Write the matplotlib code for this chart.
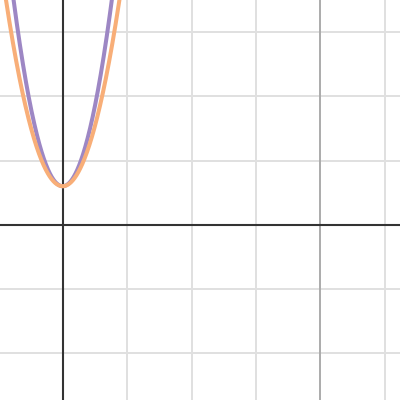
import numpy as np
import matplotlib
matplotlib.use("Agg")
import matplotlib.pyplot as plt

# Curves: y = a*x^2 + c
purple_a = 1.0
orange_a = 0.75
vertex_c = 3.0

sx, sy = 12.89, 12.83
x0, y0 = 62.7, 224.7
x_min, x_max = -x0 / sx, (400 - x0) / sx
y_min, y_max = -(400 - y0) / sy, y0 / sy

minor_step = 5
major_lines_x = [20]

fig = plt.figure(figsize=(4, 4), dpi=100)
ax = fig.add_axes([0, 0, 1, 1])
ax.set_xlim(x_min, x_max)
ax.set_ylim(y_min, y_max)
ax.axis("off")

# minor grid
for gx in np.arange(-5, 30, minor_step):
    if gx == 0 or gx in major_lines_x:
        continue
    ax.axvline(gx, color="#e0e0e0", lw=1.4, zorder=0)
for gy in np.arange(-15, 20, minor_step):
    if gy == 0:
        continue
    ax.axhline(gy, color="#e0e0e0", lw=1.4, zorder=0)
for gx in major_lines_x:
    ax.axvline(gx, color="#ababab", lw=1.4, zorder=0.5)

# axes
ax.axvline(0, color="#333333", lw=1.5, zorder=1)
ax.axhline(0, color="#333333", lw=1.5, zorder=1)

xs = np.linspace(-6, 6, 1200)
ax.plot(xs, purple_a * xs**2 + vertex_c, color="#9d87c4", lw=2.9, zorder=3,
        solid_capstyle="round")
ax.plot(xs, orange_a * xs**2 + vertex_c, color="#f8ae78", lw=2.9, zorder=4,
        solid_capstyle="round")

fig.savefig("out.png", dpi=100)
